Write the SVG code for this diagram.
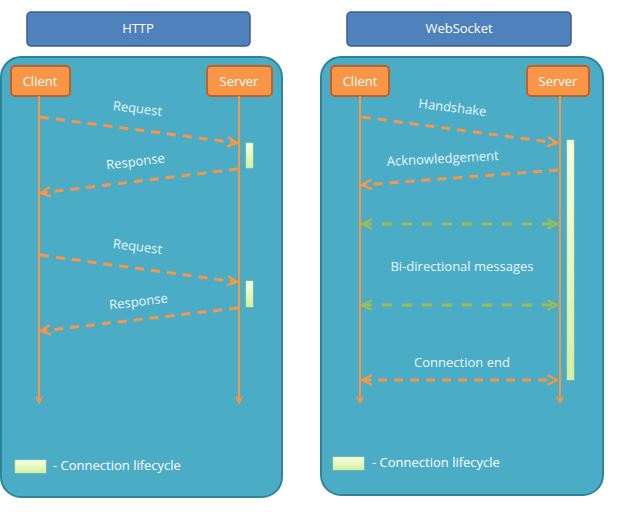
<svg xmlns="http://www.w3.org/2000/svg" width="629" height="527" viewBox="0 0 629 527">
<defs>
<marker id="ao" viewBox="0 0 10 10" refX="9" refY="5" markerWidth="4" markerHeight="4" orient="auto-start-reverse"><path d="M1,1 L9,5 L1,9" fill="none" stroke="#f79646" stroke-width="2"/></marker>
<marker id="ag" viewBox="0 0 10 10" refX="9" refY="5" markerWidth="4" markerHeight="4" orient="auto-start-reverse"><path d="M1,1 L9,5 L1,9" fill="none" stroke="#9bbb59" stroke-width="2"/></marker>
<linearGradient id="lg" x1="0" y1="0" x2="0" y2="1"><stop offset="0" stop-color="#f8ffe0"/><stop offset="1" stop-color="#d4f0a0"/></linearGradient>
</defs>
<style>
.panel{fill:#4bacc6;stroke:#31849b;stroke-width:2}
.hdr{fill:#4f81bd;stroke:#385d8a;stroke-width:1.5}
.actor{fill:#f79646;stroke:#c0602a;stroke-width:2}
.life{stroke:#f79646;stroke-width:2;fill:none}
.msg{stroke:#f79646;stroke-width:3;stroke-dasharray:9 7;fill:none}
.gmsg{stroke:#9bbb59;stroke-width:3;stroke-dasharray:10 10;fill:none}
.bar{fill:url(#lg);stroke:#c8e0a0;stroke-width:0.5}
text{font-family:"Open Sans","Liberation Sans",sans-serif;fill:#fff;font-size:13px}
.lbl{fill:#eaf6fa}
</style>
<g id="http-panel"><rect class="panel" x="1" y="57" width="281" height="440" rx="20"/></g>
<g id="ws-panel"><rect class="panel" x="321" y="57" width="282" height="438" rx="20"/></g>
<g id="http-header"><rect class="hdr" x="27" y="12" width="223" height="34" rx="4"/><text x="138" y="33" text-anchor="middle">HTTP</text></g>
<g id="ws-header"><rect class="hdr" x="347" y="12" width="224" height="34" rx="4"/><text x="459" y="33" text-anchor="middle">WebSocket</text></g>
<g id="http-client"><rect class="actor" x="11" y="66" width="59" height="30" rx="4"/><text x="40" y="86" text-anchor="middle">Client</text></g>
<g id="http-server"><rect class="actor" x="207" y="66" width="65" height="30" rx="4"/><text x="239" y="86" text-anchor="middle">Server</text></g>
<g id="ws-client"><rect class="actor" x="331" y="66" width="58" height="30" rx="4"/><text x="360" y="86" text-anchor="middle">Client</text></g>
<g id="ws-server"><rect class="actor" x="527" y="66" width="62" height="30" rx="4"/><text x="558" y="86" text-anchor="middle">Server</text></g>
<g id="bars">
<rect class="bar" x="246" y="143" width="7" height="25"/>
<rect class="bar" x="246" y="281" width="7" height="26"/>
<rect class="bar" x="567" y="140" width="7" height="240"/>
</g>
<g id="connectors">
<line class="life" x1="39" y1="96" x2="39" y2="403" marker-end="url(#ao)"/>
<line class="life" x1="239" y1="96" x2="239" y2="403" marker-end="url(#ao)"/>
<line class="life" x1="360" y1="96" x2="360" y2="403" marker-end="url(#ao)"/>
<line class="life" x1="560" y1="96" x2="560" y2="403" marker-end="url(#ao)"/>
<line class="msg" x1="40" y1="117" x2="237" y2="143" marker-end="url(#ao)"/>
<line class="msg" x1="238" y1="169" x2="41" y2="193" marker-end="url(#ao)"/>
<line class="msg" x1="40" y1="255" x2="237" y2="282" marker-end="url(#ao)"/>
<line class="msg" x1="238" y1="308" x2="41" y2="331" marker-end="url(#ao)"/>
<line class="msg" x1="362" y1="117" x2="557" y2="143" marker-end="url(#ao)"/>
<line class="msg" x1="558" y1="170" x2="362" y2="185" marker-end="url(#ao)"/>
<line class="gmsg" x1="362" y1="224" x2="557" y2="224" marker-start="url(#ag)" marker-end="url(#ag)"/>
<line class="gmsg" x1="362" y1="305" x2="557" y2="305" marker-start="url(#ag)" marker-end="url(#ag)"/>
<line class="msg" x1="362" y1="380" x2="557" y2="380" marker-start="url(#ao)" marker-end="url(#ao)"/>
</g>
<g id="labels">
<text class="lbl" x="137" y="113" text-anchor="middle" transform="rotate(7 137 113)">Request</text>
<text class="lbl" x="136" y="166" text-anchor="middle" transform="rotate(-7 136 166)">Response</text>
<text class="lbl" x="137" y="251" text-anchor="middle" transform="rotate(7 137 251)">Request</text>
<text class="lbl" x="139" y="306" text-anchor="middle" transform="rotate(-7 139 306)">Response</text>
<text class="lbl" x="452" y="112" text-anchor="middle" transform="rotate(7 452 112)">Handshake</text>
<text class="lbl" x="443" y="163" text-anchor="middle" transform="rotate(-3 443 163)">Acknowledgement</text>
<text class="lbl" x="462" y="271" text-anchor="middle">Bi-directional messages</text>
<text class="lbl" x="462" y="367" text-anchor="middle">Connection end</text>
</g>
<g id="legend-http"><rect class="bar" x="15" y="460" width="31" height="13"/><text x="53" y="470">- Connection lifecycle</text></g>
<g id="legend-ws"><rect class="bar" x="333" y="457" width="31" height="13"/><text x="372" y="467">- Connection lifecycle</text></g>
</svg>
